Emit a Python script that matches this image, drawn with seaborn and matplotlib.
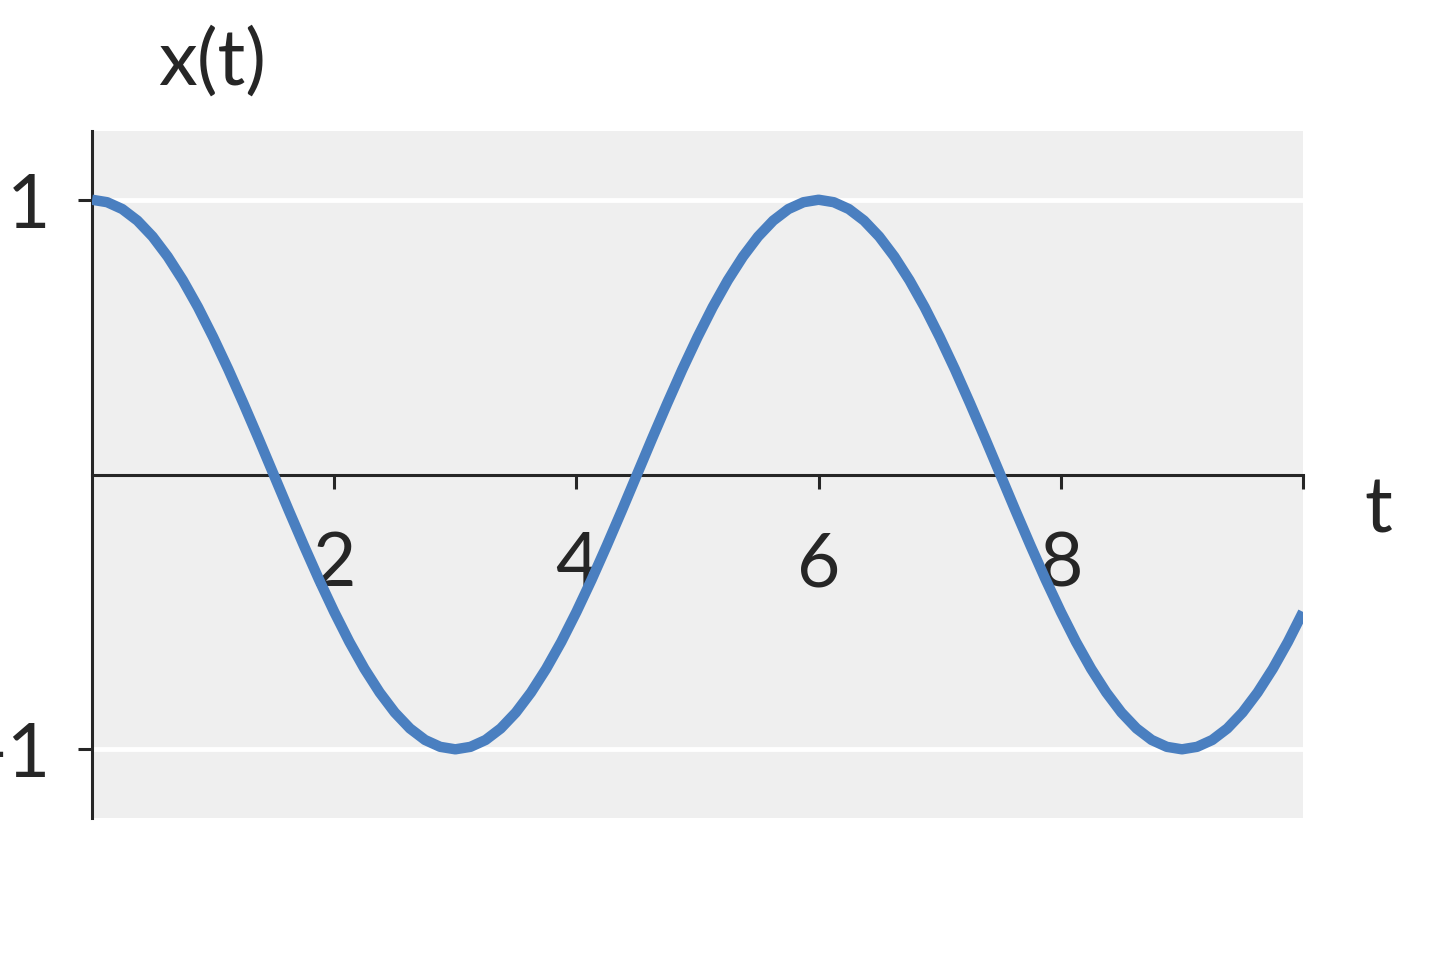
import matplotlib
matplotlib.use("Agg")
import matplotlib.pyplot as plt
import seaborn as sns
import pandas as pd

# values (every 0.125 in t)
t_values = [0.0, 0.125, 0.25, 0.375, 0.5, 0.625, 0.75, 0.875,
            1.0, 1.125, 1.25, 1.375, 1.5, 1.625, 1.75, 1.875,
            2.0, 2.125, 2.25, 2.375, 2.5, 2.625, 2.75, 2.875,
            3.0, 3.125, 3.25, 3.375, 3.5, 3.625, 3.75, 3.875,
            4.0, 4.125, 4.25, 4.375, 4.5, 4.625, 4.75, 4.875,
            5.0, 5.125, 5.25, 5.375, 5.5, 5.625, 5.75, 5.875,
            6.0, 6.125, 6.25, 6.375, 6.5, 6.625, 6.75, 6.875,
            7.0, 7.125, 7.25, 7.375, 7.5, 7.625, 7.75, 7.875,
            8.0, 8.125, 8.25, 8.375, 8.5, 8.625, 8.75, 8.875,
            9.0, 9.125, 9.25, 9.375, 9.5, 9.625, 9.75, 9.875,
            10.0]
x_values = [1.000, 0.991, 0.966, 0.924, 0.866, 0.793, 0.707, 0.609,
            0.500, 0.383, 0.259, 0.131, 0.000, -0.131, -0.259, -0.383,
            -0.500, -0.609, -0.707, -0.793, -0.866, -0.924, -0.966, -0.991,
            -1.000, -0.991, -0.966, -0.924, -0.866, -0.793, -0.707, -0.609,
            -0.500, -0.383, -0.259, -0.131, 0.000, 0.131, 0.259, 0.383,
            0.500, 0.609, 0.707, 0.793, 0.866, 0.924, 0.966, 0.991,
            1.000, 0.991, 0.966, 0.924, 0.866, 0.793, 0.707, 0.609,
            0.500, 0.383, 0.259, 0.131, 0.000, -0.131, -0.259, -0.383,
            -0.500, -0.609, -0.707, -0.793, -0.866, -0.924, -0.966, -0.991,
            -1.000, -0.991, -0.966, -0.924, -0.866, -0.793, -0.707, -0.609,
            -0.500]
x_ticks = [2, 4, 6, 8, 10]
x_ticklabels = ["2", "4", "6", "8", ""]
y_ticks = [-1, 1]
y_ticklabels = ["-1", "1"]

df = pd.DataFrame({"t": t_values, "x": x_values})

sns.set_theme(style="white")
plt.rcParams["font.family"] = ["Lato", "DejaVu Sans"]
text_col = "#262626"

fig = plt.figure(figsize=(14.4, 9.6), dpi=100)
ax = fig.add_axes([0.0639, 0.1479, 0.841, 0.7156])
ax.set_facecolor("#efefef")

sns.lineplot(data=df, x="t", y="x", ax=ax, color="#4a7fc0", linewidth=7.5,
             solid_capstyle="butt", zorder=3)

ax.set_xlim(0, 10)
ax.set_ylim(-1.25, 1.25)

ax.spines["top"].set_visible(False)
ax.spines["right"].set_visible(False)
ax.spines["bottom"].set_position(("data", 0))
for s in ["left", "bottom"]:
    ax.spines[s].set_color(text_col)
    ax.spines[s].set_linewidth(2.2)
    ax.spines[s].set_zorder(2)

ax.set_xticks(x_ticks)
ax.set_xticklabels(x_ticklabels)
ax.set_yticks(y_ticks)
ax.set_yticklabels(y_ticklabels)
ax.tick_params(axis="x", direction="out", length=10, width=2.2, color=text_col,
               labelsize=54, labelcolor=text_col, pad=30)
ax.tick_params(axis="y", direction="out", length=10, width=2.2, color=text_col,
               labelsize=54, labelcolor=text_col, pad=20)
ax.tick_params(left=True, bottom=True)

ax.yaxis.grid(True, color="white", linewidth=3.5)
ax.xaxis.grid(False)
ax.set_axisbelow(True)

ax.set_xlabel("")
ax.set_ylabel("")
fig.text(0.147, 0.935, "x(t)", fontsize=56, color=text_col, ha="center", va="center")
fig.text(0.957, 0.468, "t", fontsize=56, color=text_col, ha="center", va="center")

fig.savefig("out.png", dpi=100)
